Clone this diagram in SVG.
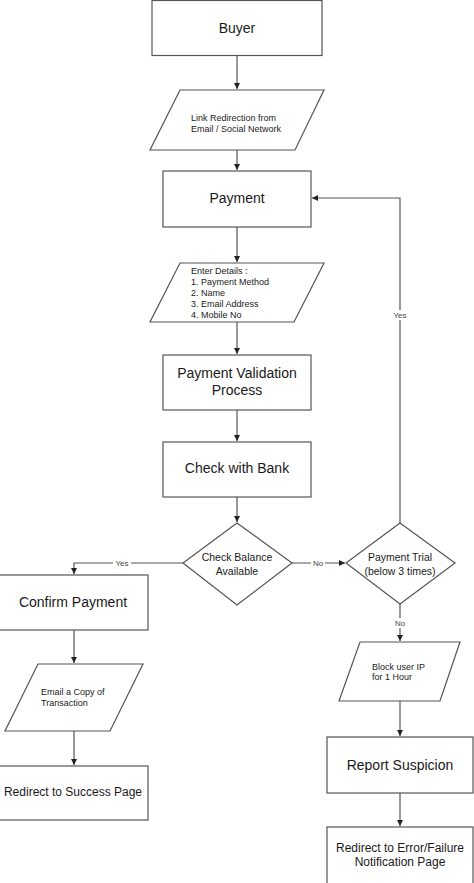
<svg xmlns="http://www.w3.org/2000/svg" width="474" height="883" viewBox="0 0 474 883">
<defs>
<marker id="ah" markerWidth="6" markerHeight="6" refX="6" refY="3" orient="auto" markerUnits="userSpaceOnUse">
<path d="M0,0 L6,3 L0,6 Z" fill="#222"/>
</marker>
<style>
.sh{fill:#fff;stroke:#555;stroke-width:1.2}
.big{font-family:"Liberation Sans",Arial,sans-serif;font-size:14px;fill:#1a1a1a;text-anchor:middle}
.med{font-family:"Liberation Sans",Arial,sans-serif;font-size:12px;fill:#1a1a1a;text-anchor:middle}
.dia{font-family:"Liberation Sans",Arial,sans-serif;font-size:10.5px;fill:#1a1a1a;text-anchor:middle}
.sm{font-family:"Liberation Sans",Arial,sans-serif;font-size:9px;fill:#222}
.lbl{font-family:"Liberation Sans",Arial,sans-serif;font-size:8px;fill:#444;text-anchor:middle}
.cn{fill:none;stroke:#555;stroke-width:1.2}
.lb{fill:#fff}
</style>
</defs>
<rect width="474" height="883" fill="#fff"/>
<g id="connectors">
<path class="cn" d="M237,55 V89" marker-end="url(#ah)"/>
<path class="cn" d="M237,150 V170" marker-end="url(#ah)"/>
<path class="cn" d="M237,227 V262" marker-end="url(#ah)"/>
<path class="cn" d="M237,322 V354" marker-end="url(#ah)"/>
<path class="cn" d="M237,410 V441" marker-end="url(#ah)"/>
<path class="cn" d="M237,497 V522" marker-end="url(#ah)"/>
<path class="cn" d="M183,563 H74 V574" marker-end="url(#ah)"/>
<path class="cn" d="M292,563 H345" marker-end="url(#ah)"/>
<path class="cn" d="M400,523 V198 H312" marker-end="url(#ah)"/>
<path class="cn" d="M400,604 V641" marker-end="url(#ah)"/>
<path class="cn" d="M74,630 V663" marker-end="url(#ah)"/>
<path class="cn" d="M74,731 V765" marker-end="url(#ah)"/>
<path class="cn" d="M400,701 V736" marker-end="url(#ah)"/>
<path class="cn" d="M400,793 V826" marker-end="url(#ah)"/>
<rect class="lb" x="113" y="558" width="18" height="9"/>
<text class="lbl" x="122" y="566">Yes</text>
<rect class="lb" x="311" y="558" width="14" height="9"/>
<text class="lbl" x="318" y="566">No</text>
<rect class="lb" x="391" y="310" width="18" height="10"/>
<text class="lbl" x="400" y="318">Yes</text>
<rect class="lb" x="393" y="618" width="14" height="10"/>
<text class="lbl" x="400" y="626">No</text>
</g>
<g id="buyer">
<rect class="sh" x="152" y="0.5" width="170" height="55"/>
<text class="big" x="237" y="33">Buyer</text>
</g>
<g id="link-redirection">
<polygon class="sh" points="180,90 324,90 295,150 150,150"/>
<text class="sm" x="191" y="121">Link Redirection from</text>
<text class="sm" x="191" y="132">Email / Social Network</text>
</g>
<g id="payment">
<rect class="sh" x="163" y="171" width="148" height="56"/>
<text class="big" x="237" y="203">Payment</text>
</g>
<g id="enter-details">
<polygon class="sh" points="180,263 324,263 294,322 150,322"/>
<text class="sm" x="191" y="274">Enter Details :</text>
<text class="sm" x="191" y="285">1. Payment Method</text>
<text class="sm" x="191" y="296">2. Name</text>
<text class="sm" x="191" y="307">3. Email Address</text>
<text class="sm" x="191" y="318">4. Mobile No</text>
</g>
<g id="validation">
<rect class="sh" x="163" y="355" width="148" height="55"/>
<text class="big" x="237" y="378">Payment Validation</text>
<text class="big" x="237" y="395">Process</text>
</g>
<g id="check-bank">
<rect class="sh" x="163" y="442" width="148" height="55"/>
<text class="big" x="237" y="473">Check with Bank</text>
</g>
<g id="check-balance">
<polygon class="sh" points="237,523 292,563 237,605 183,563"/>
<text class="dia" x="237" y="561">Check Balance</text>
<text class="dia" x="237" y="575">Available</text>
</g>
<g id="payment-trial">
<polygon class="sh" points="400,523 455,563 400,604 346,563"/>
<text class="dia" x="400" y="561">Payment Trial</text>
<text class="dia" x="400" y="575">(below 3 times)</text>
</g>
<g id="confirm-payment">
<rect class="sh" x="-1" y="575" width="149" height="55"/>
<text class="big" x="73" y="607">Confirm Payment</text>
</g>
<g id="email-copy">
<polygon class="sh" points="38,664 143,664 110,731 5,731"/>
<text class="sm" x="41" y="695">Email a Copy of</text>
<text class="sm" x="41" y="706">Transaction</text>
</g>
<g id="success">
<rect class="sh" x="-1" y="766" width="149" height="54"/>
<text class="med" x="73" y="796">Redirect to Success Page</text>
</g>
<g id="block-ip">
<polygon class="sh" points="360,642 460,642 440,701 339,701"/>
<text class="sm" x="372" y="670">Block user IP</text>
<text class="sm" x="372" y="680">for 1 Hour</text>
</g>
<g id="report">
<rect class="sh" x="327" y="737" width="146" height="56"/>
<text class="big" x="400" y="770">Report Suspicion</text>
</g>
<g id="error">
<rect class="sh" x="327" y="827" width="146" height="60"/>
<text class="med" x="400" y="852">Redirect to Error/Failure</text>
<text class="med" x="400" y="866">Notification Page</text>
</g>
</svg>
